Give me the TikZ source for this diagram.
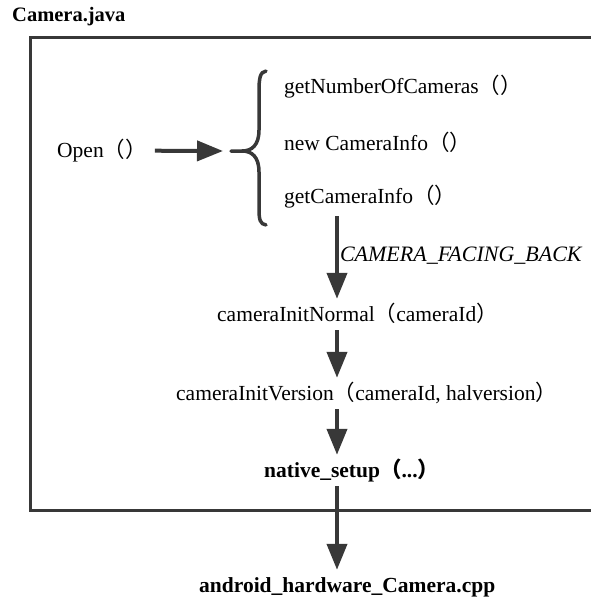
\documentclass[tikz,border=0pt]{standalone}
\usepackage{fontspec}
\setmainfont{Liberation Serif}
\newfontfamily\cjk{Noto Sans CJK SC}
\usetikzlibrary{arrows.meta, positioning, calc}

\definecolor{linegray}{HTML}{383838}
\newcommand{\lpar}{{\cjk （}}
\newcommand{\rpar}{{\cjk ）}}

\begin{document}
\begin{tikzpicture}[x=1pt, y=-1pt, >={Triangle[length=26pt, width=20pt]}, font=\fontsize{21.5}{25}\selectfont]
        \tikzset{txt/.style={inner xsep=0pt, inner ysep=4pt, text height=18pt, text depth=5pt, anchor=base west},
                 flow/.style={->, line width=4pt, draw=linegray},
                 frame/.style={line width=3pt, draw=linegray}}
        \useasboundingbox (0,0) rectangle (591,598);

        \draw[frame] (30,37) rectangle (606,510);
        \node[txt, font=\fontsize{20.5}{24}\selectfont\bfseries] (title) at (12,21) {Camera.java};

        \node[txt] (open) at (57,157) {Open\lpar\rpar};
        \node[txt] (num) at (284,93) {getNumberOfCameras\lpar\rpar};
        \node[txt] (info) at (284,150) {new CameraInfo\lpar\rpar};
        \node[txt] (get) at (284,203) {getCameraInfo\lpar\rpar};
        \coordinate (tip) at (223,151);
        \coordinate (col) at (337,0);

        \node[txt] (init) at (217,321) {cameraInitNormal\lpar cameraId\rpar};
        \node[txt] (initv) at (176,400) {cameraInitVersion\lpar cameraId, halversion\rpar};
        \node[txt, font=\fontsize{21.5}{25}\selectfont\bfseries] (setup) at (264,477) {native\_setup\lpar ...\rpar};
        \node[txt, font=\fontsize{21.5}{25}\selectfont\bfseries] (jni) at (199,592) {android\_hardware\_Camera.cpp};

        % brace
        \draw[line width=3.5pt, draw=linegray, line cap=round]
            (266,71) .. controls (260,72) and (259,78) .. (259,92) -- (259,130)
            .. controls (259,145) and (252,151) .. (242,151) -- (231,151)
            (242,151) .. controls (252,151) and (259,157) .. (259,172) -- (259,208)
            .. controls (259,220) and (260,224) .. (266,225);

        \draw[flow, shorten <=8pt] (open) -- (tip);
        \draw[flow, shorten <=4pt] (get.south -| col) -- node[anchor=west, inner sep=1pt, font=\fontsize{22}{26}\selectfont\itshape] (facing) {CAMERA\_FACING\_BACK} (init.north -| col);
        \draw[flow] (init.south -| col) -- (initv.north -| col);
        \draw[flow] (initv.south -| col) -- (setup.north -| col);
        \draw[flow] (setup.south -| col) -- (jni.north -| col);
\end{tikzpicture}
\end{document}
